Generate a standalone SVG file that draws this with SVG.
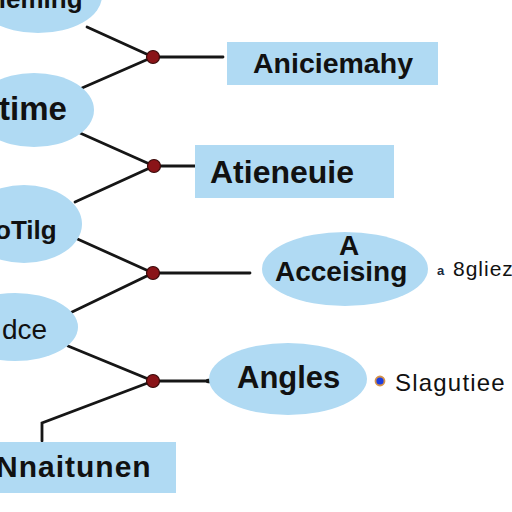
<svg xmlns="http://www.w3.org/2000/svg" width="512" height="512" viewBox="0 0 512 512">
<style>
.shape{fill:#b0daf3;stroke:none}
.lbl{font-family:"Liberation Sans",Arial,sans-serif;font-weight:bold;fill:#111}
.side{font-family:"Liberation Sans",Arial,sans-serif;fill:#111}
.conn{stroke:#161616;stroke-width:2.8;fill:none;stroke-linecap:round}
.dot{fill:#8a1418;stroke:#3a0a0a;stroke-width:1.2}
</style>
<rect width="512" height="512" fill="#ffffff"/>
<g id="connectors">
<path class="conn" d="M87,27 L153,57 L82,88"/>
<path class="conn" d="M153,57 L223,57"/>
<path class="conn" d="M80,133 L154,166 L75,202"/>
<path class="conn" d="M154,166 L195,166"/>
<path class="conn" d="M73,237 L153,273 L70,313"/>
<path class="conn" d="M153,273 L250,273"/>
<path class="conn" d="M68,346 L153,381 L42,423 L42,441"/>
<path class="conn" d="M153,381 L222,381"/>
<path d="M208,381 L222,381" stroke="#161616" stroke-width="4.5" stroke-linecap="round"/>
<circle class="dot" cx="153" cy="57" r="6.5"/>
<circle class="dot" cx="154" cy="166" r="6.5"/>
<circle class="dot" cx="153" cy="273" r="6.5"/>
<circle class="dot" cx="153" cy="381" r="6.5"/>
</g>
<g id="n-top">
<ellipse class="shape" cx="38" cy="-4" rx="64" ry="37"/>
<text class="lbl" x="-20" y="8" font-size="26">Nieming</text>
</g>
<g id="n-time">
<ellipse class="shape" cx="34" cy="110" rx="60" ry="37"/>
<text class="lbl" x="-1" y="120" font-size="33">time</text>
</g>
<g id="n-tilg">
<ellipse class="shape" cx="24" cy="224" rx="58" ry="39"/>
<text class="lbl" x="-5" y="239" font-size="26">oTilg</text>
</g>
<g id="n-dce">
<ellipse class="shape" cx="15" cy="327" rx="63" ry="34"/>
<text class="side" x="2" y="339" font-size="28">dce</text>
</g>
<g id="n-bottom">
<rect class="shape" x="-2" y="442" width="178" height="51"/>
<text class="lbl" x="-4" y="477" font-size="30" letter-spacing="1">Nnaitunen</text>
</g>
<g id="n-aniciemahy">
<rect class="shape" x="227" y="42" width="211" height="43"/>
<text class="lbl" x="253" y="73" font-size="28.5">Aniciemahy</text>
</g>
<g id="n-atieneuie">
<rect class="shape" x="195" y="145" width="199" height="53"/>
<text class="lbl" x="210" y="183" font-size="32">Atieneuie</text>
</g>
<g id="n-acceising">
<ellipse class="shape" cx="345" cy="269" rx="83" ry="37"/>
<text class="lbl" x="349" y="255" font-size="28" text-anchor="middle">A</text>
<text class="lbl" x="275" y="281" font-size="28">Acceising</text>
<text class="lbl" x="437" y="275" font-size="13" style="fill:#1a2a40">a</text>
<text class="side" x="453" y="276" font-size="21" letter-spacing="1">8gliez</text>
</g>
<g id="n-angles">
<ellipse class="shape" cx="288" cy="379" rx="79" ry="36"/>
<text class="lbl" x="237" y="388" font-size="31">Angles</text>
<circle cx="380" cy="381" r="4.5" fill="#1d3ee0" stroke="#d6924a" stroke-width="1.8"/>
<text class="side" x="395" y="391" font-size="24" letter-spacing="1.2">Slagutiee</text>
</g>
</svg>
